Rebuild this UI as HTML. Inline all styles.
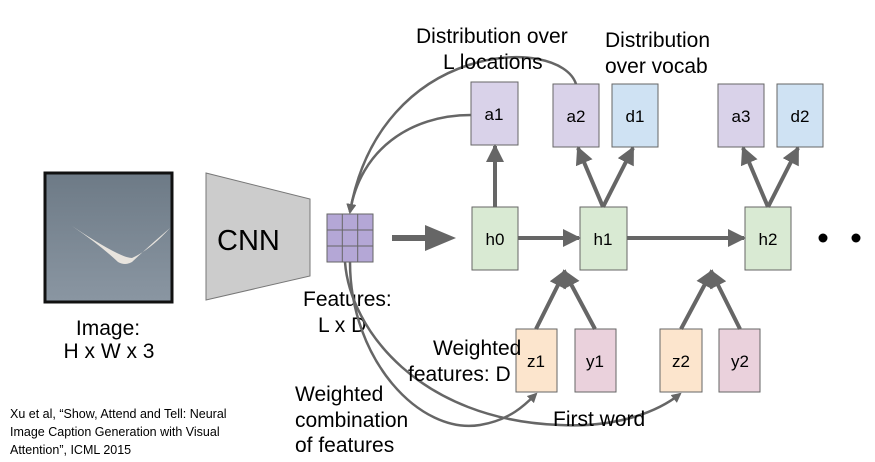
<!DOCTYPE html>
<html><head><style>body{margin:0;background:#fff}svg{display:block}text{font-family:"Liberation Sans",Arial,sans-serif;fill:#000}</style></head><body>
<svg width="875" height="462" viewBox="0 0 875 462">
<defs>
<marker id="ah" markerWidth="10" markerHeight="10" refX="8" refY="5" orient="auto" markerUnits="userSpaceOnUse"><path d="M0,0 L10,5 L0,10z" fill="#666"/></marker>
<marker id="bh" markerWidth="18" markerHeight="18" refX="16" refY="9" orient="auto" markerUnits="userSpaceOnUse"><path d="M0,0 L18,9 L0,18z" fill="#666"/></marker>
<linearGradient id="wat" x1="0" y1="0" x2="0" y2="1"><stop offset="0" stop-color="#6d7a86"/><stop offset="1" stop-color="#8a96a2"/></linearGradient>
</defs>
<rect x="45" y="173" width="127" height="129" fill="url(#wat)" stroke="#111" stroke-width="3"/>
<path d="M72,226 Q100,245 118,262 Q125,266 132,262 Q150,245 170,228 Q150,250 132,258 Q120,258 72,226z" fill="#e8e4de"/>
<text x="108" y="335" font-size="21" text-anchor="middle">Image:</text>
<text x="109" y="358" font-size="21" text-anchor="middle">H x W x 3</text>
<polygon points="206,173 310,199 310,276 206,300" fill="#ccc" stroke="#777"/>
<text x="217" y="250" font-size="29">CNN</text>
<rect x="327" y="214" width="46" height="48" fill="#b4a7d6" stroke="#666"/>
<path d="M342.3,214V262M357.7,214V262M327,230H373M327,246H373" stroke="#666"/>
<text x="303" y="306" font-size="21">Features:</text>
<text x="318" y="332" font-size="21">L x D</text>
<line x1="392" y1="238" x2="430" y2="238" stroke="#666" stroke-width="6"/>
<polygon points="425,225 456,238 425,251" fill="#666"/>
<g stroke="#666" stroke-width="1">
<rect x="472" y="207" width="46" height="63" fill="#d9ead3"/>
<rect x="580" y="207" width="47" height="63" fill="#d9ead3"/>
<rect x="745" y="207" width="46" height="63" fill="#d9ead3"/>
<rect x="471" y="82" width="47" height="63" fill="#d9d2e9"/>
<rect x="553" y="84" width="46" height="63" fill="#d9d2e9"/>
<rect x="612" y="84" width="46" height="63" fill="#cfe2f3"/>
<rect x="718" y="84" width="46" height="63" fill="#d9d2e9"/>
<rect x="777" y="84" width="46" height="63" fill="#cfe2f3"/>
<rect x="516" y="329" width="41" height="63" fill="#fce5cd"/>
<rect x="575" y="329" width="41" height="63" fill="#ead1dc"/>
<rect x="660" y="329" width="42" height="63" fill="#fce5cd"/>
<rect x="719" y="329" width="41" height="63" fill="#ead1dc"/>
</g>
<g font-size="17" text-anchor="middle">
<text x="495" y="245">h0</text><text x="603" y="245">h1</text><text x="768" y="245">h2</text>
<text x="494" y="120">a1</text><text x="576" y="122">a2</text><text x="635" y="122">d1</text>
<text x="741" y="122">a3</text><text x="800" y="122">d2</text>
<text x="536" y="367">z1</text><text x="595" y="367">y1</text><text x="681" y="367">z2</text><text x="740" y="367">y2</text>
</g>
<g stroke="#666" stroke-width="4" fill="none">
<line x1="495" y1="207" x2="495" y2="146" marker-end="url(#bh)"/>
<line x1="518" y1="238" x2="579" y2="238" marker-end="url(#bh)"/>
<line x1="627" y1="238" x2="744" y2="238" marker-end="url(#bh)"/>
<line x1="603" y1="207" x2="578" y2="148" marker-end="url(#bh)"/>
<line x1="603" y1="207" x2="633" y2="148" marker-end="url(#bh)"/>
<line x1="768" y1="207" x2="743" y2="148" marker-end="url(#bh)"/>
<line x1="768" y1="207" x2="798" y2="148" marker-end="url(#bh)"/>
<line x1="536" y1="329" x2="565" y2="271" marker-end="url(#bh)"/>
<line x1="595" y1="329" x2="564" y2="271" marker-end="url(#bh)"/>
<line x1="681" y1="329" x2="712" y2="271" marker-end="url(#bh)"/>
<line x1="740" y1="329" x2="711" y2="271" marker-end="url(#bh)"/>
</g>
<g stroke="#666" stroke-width="2.5" fill="none">
<path d="M471,115 C410,115 360,150 350,212" marker-end="url(#ah)"/>
<path d="M576,84 C560,35 380,40 350,212" marker-end="url(#ah)"/>
<path d="M350,262 C350,360 420,435 480,425 C510,420 525,405 536,394" marker-end="url(#ah)"/>
<path d="M345,262 C350,330 420,420 560,425 C620,428 660,410 680,394" marker-end="url(#ah)"/>
</g>
<circle cx="823" cy="238" r="4.5" fill="#000"/><circle cx="856" cy="238" r="4.5" fill="#000"/>
<g font-size="21">
<text x="416" y="43">Distribution over</text>
<text x="443" y="69">L locations</text>
<text x="605" y="47">Distribution</text>
<text x="605" y="73">over vocab</text>
<text x="433" y="355">Weighted</text>
<text x="408" y="381">features: D</text>
<text x="295" y="401">Weighted</text>
<text x="295" y="427">combination</text>
<text x="295" y="452">of features</text>
<text x="553" y="426">First word</text>
</g>
<g font-size="12.5">
<text x="10" y="418">Xu et al, “Show, Attend and Tell: Neural</text>
<text x="10" y="436">Image Caption Generation with Visual</text>
<text x="10" y="454">Attention”, ICML 2015</text>
</g>
</svg>
</body></html>
